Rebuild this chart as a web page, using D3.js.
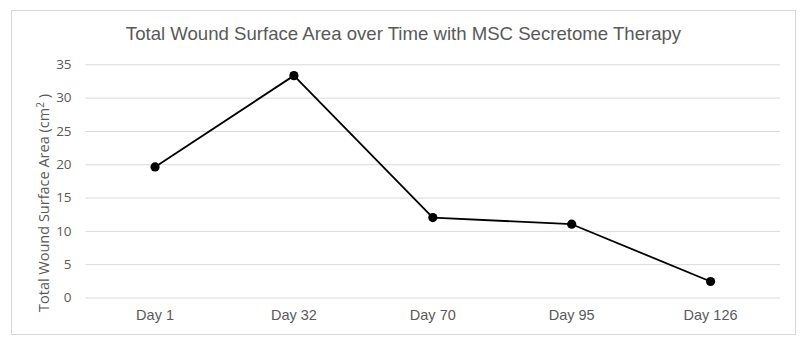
<!DOCTYPE html>
<html><head><meta charset="utf-8">
<script src="https://cdn.jsdelivr.net/npm/d3@7"></script>
<style>html,body{margin:0;padding:0;background:#fff;}</style>
</head><body>
<svg id="chart" width="806" height="345"></svg>
<script>
const categories = ["Day 1", "Day 32", "Day 70", "Day 95", "Day 126"];
const areaValues = [19.6, 33.3, 12.0, 11.0, 2.4];
const yTicks = [0, 5, 10, 15, 20, 25, 30, 35];
const titleText = "Total Wound Surface Area over Time with MSC Secretome Therapy";

const svg = d3.select("#chart");
const W = 806, H = 345;
const margin = {left: 85.6, right: 26, top: 64.3, bottom: 47.5};

svg.append("rect").attr("x", 11.5).attr("y", 10.5).attr("width", 784).attr("height", 324)
  .attr("fill", "#fff").attr("stroke", "#d9d9d9").attr("stroke-width", 1);

const x = d3.scaleBand().domain(categories).range([margin.left, W - margin.right]);
const y = d3.scaleLinear().domain([0, 35]).range([H - margin.bottom, margin.top]);

// gridlines
const grid = svg.append("g")
  .attr("transform", `translate(${margin.left},0)`)
  .call(d3.axisLeft(y).tickValues(yTicks).tickSize(-(W - margin.right - margin.left)).tickFormat(""));
grid.select(".domain").remove();
grid.selectAll("line").attr("stroke", "#d9d9d9").attr("stroke-width", 1);

// y tick labels
const yAx = svg.append("g")
  .attr("transform", `translate(${margin.left - 14},0)`)
  .call(d3.axisLeft(y).tickValues(yTicks).tickSize(0).tickPadding(0));
yAx.select(".domain").remove();
yAx.selectAll("text").attr("fill", "#595959").attr("font-family", "'Open Sans', 'Liberation Sans', sans-serif")
  .attr("font-size", 13.5);

// x axis labels
const xAx = svg.append("g")
  .attr("transform", `translate(0,${H - margin.bottom})`)
  .call(d3.axisBottom(x).tickSize(0).tickPadding(12));
xAx.select(".domain").remove();
xAx.selectAll("text").attr("fill", "#595959").attr("font-family", "'Liberation Sans', Arial, sans-serif")
  .attr("font-size", 14.5);

// line
const line = d3.line().x((d, i) => x(categories[i]) + x.bandwidth() / 2).y(d => y(d));
svg.append("path").datum(areaValues).attr("d", line)
  .attr("fill", "none").attr("stroke", "#000").attr("stroke-width", 1.8).attr("stroke-linejoin", "round");

svg.selectAll("circle.pt").data(areaValues).enter().append("circle")
  .attr("class", "pt")
  .attr("cx", (d, i) => x(categories[i]) + x.bandwidth() / 2)
  .attr("cy", d => y(d)).attr("r", 4.6).attr("fill", "#000");

// title
svg.append("text").attr("x", 403.5).attr("y", 39.5).attr("text-anchor", "middle")
  .attr("fill", "#595959").attr("font-family", "'Liberation Sans', Arial, sans-serif")
  .attr("font-size", 18.6).text(titleText);

// y title (start-anchored, placed at the bottom of its span)
const yt = svg.append("text")
  .attr("transform", `translate(49,312) rotate(-90)`)
  .attr("text-anchor", "start").attr("fill", "#595959")
  .attr("font-family", "'Open Sans', 'Liberation Sans', sans-serif").attr("font-size", 14.5);
yt.append("tspan").text("Total Wound Surface Area (cm");
yt.append("tspan").attr("dy", -5).attr("font-size", 10).text("2");
yt.append("tspan").attr("dy", 5).text(" )");
</script>
</body></html>
